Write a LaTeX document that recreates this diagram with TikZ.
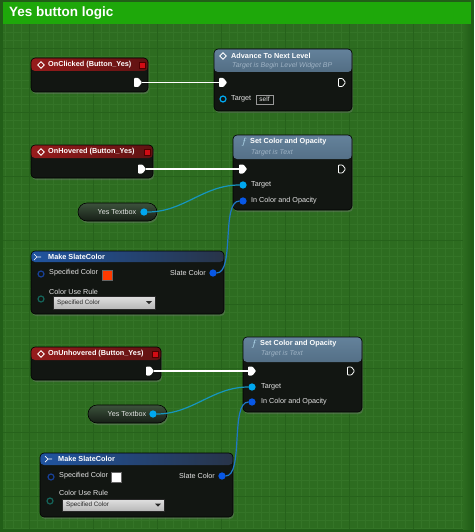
\documentclass[tikz,border=0pt]{standalone}
\usepackage{fontspec}
\setmainfont{Liberation Sans}
\usetikzlibrary{calc,shadows}
\definecolor{bggreen}{RGB}{45,108,32}
\definecolor{minorgreen}{RGB}{52,116,39}
\definecolor{majorgreen}{RGB}{38,98,27}
\definecolor{framegreen}{RGB}{34,94,24}
\definecolor{titlegreen}{RGB}{30,168,10}
\definecolor{nodebody}{RGB}{18,22,18}
\definecolor{evred}{RGB}{150,28,28}
\definecolor{evdark}{RGB}{95,18,18}
\definecolor{fnlight}{RGB}{100,130,155}
\definecolor{fndark}{RGB}{52,74,94}
\definecolor{stlight}{RGB}{32,84,160}
\definecolor{stdark}{RGB}{40,52,72}
\definecolor{objblue}{RGB}{0,168,240}
\definecolor{structblue}{RGB}{8,88,230}
\definecolor{slateout}{RGB}{24,64,150}
\definecolor{enumout}{RGB}{20,100,90}
\definecolor{wireteal}{RGB}{22,150,190}
\definecolor{wireblue}{RGB}{30,120,200}
\definecolor{subgrey}{RGB}{158,178,196}
\definecolor{lblgrey}{RGB}{228,228,228}
\definecolor{swatchred}{RGB}{255,58,0}
\definecolor{sqred}{RGB}{210,12,20}
\definecolor{ddtext}{RGB}{40,40,40}
\definecolor{varlight}{RGB}{60,82,60}
\definecolor{vardark}{RGB}{22,30,22}
\tikzset{
  minorln/.style={minorgreen,line width=.35pt},
  majorln/.style={majorgreen,line width=.6pt},
  bpbody/.style={fill=nodebody,draw=black,line width=.6pt,rounded corners=4pt,
    drop shadow={opacity=.35,shadow xshift=1pt,shadow yshift=-2pt}},
  evbox/.style={bpbody,path picture={\shade[left color=evred,right color=evdark]
      (path picture bounding box.north west) rectangle ([yshift=-#1]path picture bounding box.north east);}},
  fnbox/.style={bpbody,path picture={\shade[top color=fnlight,bottom color=fndark]
      (path picture bounding box.north west) rectangle ([yshift=-#1]path picture bounding box.north east);}},
  stbox/.style={bpbody,path picture={\shade[left color=stlight,right color=stdark]
      (path picture bounding box.north west) rectangle ([yshift=-#1]path picture bounding box.north east);}},
  varbox/.style={rounded corners=9pt,top color=varlight,bottom color=vardark,draw=black,line width=.6pt,
    drop shadow={opacity=.35,shadow xshift=1pt,shadow yshift=-2pt}},
  dropbox/.style={top color=white!88!black,bottom color=white!72!black,draw=ddtext,line width=.5pt},
  titletxt/.style={anchor=west,inner sep=0pt,text=white,font=\bfseries\fontsize{13.5}{15}\selectfont},
  ttl/.style={anchor=west,inner sep=0pt,text=white,font=\bfseries\fontsize{7.3}{8}\selectfont},
  sub/.style={anchor=west,inner sep=0pt,text=subgrey,font=\itshape\fontsize{7}{8}\selectfont},
  lbl/.style={anchor=west,inner sep=0pt,text=lblgrey,font=\fontsize{7.2}{8}\selectfont},
  lblr/.style={lbl,anchor=east},
  ddtxt/.style={anchor=west,inner sep=0pt,text=ddtext,font=\fontsize{6.3}{7}\selectfont},
  fico/.style={inner sep=0pt,text=white!75!objblue,font=\fontsize{9}{9}\selectfont},
  evsq/.style={draw=black!70!red,fill=sqred,minimum size=6pt,inner sep=0pt,line width=.6pt},
  dpin/.style={circle,inner sep=0pt,minimum size=6pt,line width=1.2pt},
  objpin/.style={dpin,fill=objblue,draw=objblue},
  strpin/.style={dpin,fill=structblue,draw=structblue},
  objopen/.style={dpin,draw=objblue},
  slateopen/.style={dpin,draw=slateout},
  enumopen/.style={dpin,draw=enumout},
  execwire/.style={white,line width=1.6pt},
  tgtwire/.style={wireteal,line width=1.2pt},
  colwire/.style={wireblue,line width=1.2pt},
  exec/.pic={\fill[white,rounded corners=.8pt] (-4,-4.5) -- (0.5,-4.5) -- (4,0) -- (0.5,4.5) -- (-4,4.5) -- cycle;},
  execo/.pic={\draw[white,line width=.8pt,rounded corners=.8pt] (-3.5,-4) -- (0.5,-4) -- (3.5,0) -- (0.5,4) -- (-3.5,4) -- cycle;},
  diam/.pic={\draw[white,line width=.9pt] (-3.3,0) -- (0,-3.3) -- (3.3,0) -- (0,3.3) -- cycle;},
  mkicon/.pic={\draw[white,line width=.7pt] (-3,-3) -- (0,0) -- (-3,3) (0,0) -- (4,0);}
}
\begin{document}
\begin{tikzpicture}[x=1pt,y=-1pt]
  \useasboundingbox (0,0) rectangle (474,532);
  % comment box and grid
  \fill[framegreen] (0,0) rectangle (474,532);
  \fill[bggreen] (3,24) rectangle (471,529);
  \foreach \gx in {5,13,...,469} \draw[minorln] (\gx,24) -- (\gx,529);
  \foreach \gy in {32,40,...,528} \draw[minorln] (3,\gy) -- (471,\gy);
  \foreach \gx in {29,93,...,413} \draw[majorln] (\gx,24) -- (\gx,529);
  \foreach \gy in {48,112,...,496} \draw[majorln] (3,\gy) -- (471,\gy);
  \shade[left color=bggreen,right color=framegreen] (463,24) rectangle (471,529);
  \fill[titlegreen] (3,2) rectangle (471,24);
  \node[titletxt] (title) at (9,13) {Yes button logic};

  % OnClicked
  \path[evbox=13pt] (31,58) rectangle (148,92);
  \pic at (41,65) {diam};
  \node[ttl] (clkT) at (48,65) {OnClicked (Button\_Yes)};
  \node[evsq] (clkSq) at (142,65) {};
  \coordinate (clkOut) at (142,82.5);

  % Advance To Next Level
  \path[fnbox=23pt] (214,49) rectangle (352,111);
  \pic at (223,56) {diam};
  \node[ttl] (advT) at (231,56) {Advance To Next Level};
  \node[sub] (advS) at (232,66) {Target is Begin Level Widget BP};
  \coordinate (advIn) at (219,82.5);
  \node[objopen] (advTgt) at (223,99) {};
  \node[lbl] (advTgtL) at (231,99) {Target};
  \node[draw=white!60!black,fill=nodebody,line width=.5pt,minimum width=17pt,minimum height=9pt,inner sep=0pt,
    text=lblgrey,font=\fontsize{6.5}{7}\selectfont] (advSelf) at (264.5,99.5) {self};

  % OnHovered
  \path[evbox=13pt] (31,145) rectangle (153,178);
  \pic at (41,152) {diam};
  \node[ttl] (hovT) at (48,152) {OnHovered (Button\_Yes)};
  \node[evsq] (hovSq) at (147,152) {};
  \coordinate (hovOut) at (146,169);

  % Set Color and Opacity 1
  \path[fnbox=24pt] (233,135) rectangle (352,210);
  \node[fico] (sc1F) at (244,142) {$f$};
  \node[ttl] (sc1T) at (250,142) {Set Color and Opacity};
  \node[sub] (sc1S) at (251,153) {Target is Text};
  \coordinate (sc1In) at (239,169);
  \node[objpin] (sc1Tgt) at (243,185) {};
  \node[lbl] (sc1TgtL) at (251,185) {Target};
  \node[strpin] (sc1Col) at (243,201) {};
  \node[lbl] (sc1ColL) at (251,201) {In Color and Opacity};

  % Yes Textbox 1
  \path[varbox] (78,203) rectangle (157,221);
  \node[lbl,anchor=center] (tb1T) at (117,212) {Yes Textbox};
  \node[objpin] (tb1Pin) at (144,212) {};

  % Make SlateColor 1
  \path[stbox=11pt] (31,251) rectangle (224,314);
  \pic at (37,257) {mkicon};
  \node[ttl] (mk1T) at (48,257) {Make SlateColor};
  \node[slateopen] (mk1Spec) at (41,274) {};
  \node[lbl] (mk1SpecL) at (49,273) {Specified Color};
  \fill[swatchred,draw=black!60,line width=.4pt] (102,270) rectangle (112,280);
  \node[lblr] (mk1OutL) at (206,273) {Slate Color};
  \node[strpin] (mk1Out) at (213,273) {};
  \node[lbl] (mk1RuleL) at (49,292) {Color Use Rule};
  \node[enumopen] (mk1Rule) at (41,299) {};
  \path[dropbox] (53,296) rectangle (155,309);
  \node[ddtxt] (mk1Dd) at (57,302.5) {Specified Color};
  \fill[ddtext] (146,301) -- (152,301) -- (149,304) -- cycle;

  % OnUnhovered
  \path[evbox=13pt] (31,347) rectangle (161,380);
  \pic at (41,354) {diam};
  \node[ttl] (unhT) at (48,354) {OnUnhovered (Button\_Yes)};
  \node[evsq] (unhSq) at (155,354) {};
  \coordinate (unhOut) at (154,371);

  % Set Color and Opacity 2
  \path[fnbox=25pt] (243,337) rectangle (362,412);
  \node[fico] (sc2F) at (254,344) {$f$};
  \node[ttl] (sc2T) at (260,344) {Set Color and Opacity};
  \node[sub] (sc2S) at (261,354) {Target is Text};
  \coordinate (sc2In) at (248,371);
  \node[objpin] (sc2Tgt) at (252,387) {};
  \node[lbl] (sc2TgtL) at (261,387) {Target};
  \node[strpin] (sc2Col) at (252,402) {};
  \node[lbl] (sc2ColL) at (261,402) {In Color and Opacity};

  % Yes Textbox 2
  \path[varbox] (88,405) rectangle (167,423);
  \node[lbl,anchor=center] (tb2T) at (127,414) {Yes Textbox};
  \node[objpin] (tb2Pin) at (153,414) {};

  % Make SlateColor 2
  \path[stbox=12pt] (40,453) rectangle (233,517);
  \pic at (48,459) {mkicon};
  \node[ttl] (mk2T) at (58,459) {Make SlateColor};
  \node[slateopen] (mk2Spec) at (51,477) {};
  \node[lbl] (mk2SpecL) at (59,476) {Specified Color};
  \fill[white,draw=black!60,line width=.4pt] (111,472) rectangle (121,482);
  \node[lblr] (mk2OutL) at (215,476) {Slate Color};
  \node[strpin] (mk2Out) at (222,476) {};
  \node[lbl] (mk2RuleL) at (59,493) {Color Use Rule};
  \node[enumopen] (mk2Rule) at (50,501) {};
  \path[dropbox] (62,499) rectangle (164,511);
  \node[ddtxt] (mk2Dd) at (66,505) {Specified Color};
  \fill[ddtext] (155,503.5) -- (161,503.5) -- (158,506.5) -- cycle;

  % wires
  \draw[execwire] (clkOut) -- (advIn);
  \draw[execwire] (hovOut) -- (sc1In);
  \draw[execwire] (unhOut) -- (sc2In);
  \draw[tgtwire] (tb1Pin) .. controls +(40,0) and +(-40,0) .. (sc1Tgt);
  \draw[tgtwire] (tb2Pin) .. controls +(40,0) and +(-40,0) .. (sc2Tgt);
  \draw[colwire] (mk1Out) .. controls +(22,0) and +(-22,0) .. (sc1Col);
  \draw[colwire] (mk2Out) .. controls +(22,0) and +(-22,0) .. (sc2Col);

  % exec pins
  \pic at (138,82.5) {exec};
  \pic at (223,82.5) {exec};
  \pic at (342,82.5) {execo};
  \pic at (142,169) {exec};
  \pic at (243,169) {exec};
  \pic at (342,169) {execo};
  \pic at (150,371) {exec};
  \pic at (252,371) {exec};
  \pic at (351,371) {execo};
\end{tikzpicture}
\end{document}
